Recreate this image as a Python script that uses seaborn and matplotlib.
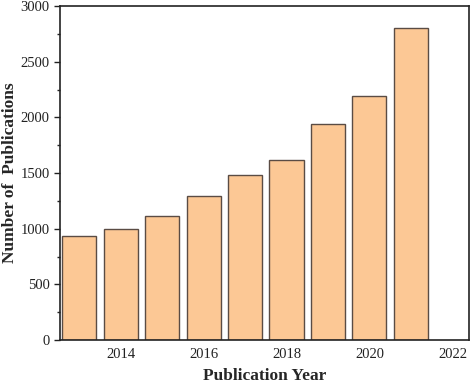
import numpy as np
import pandas as pd
import seaborn as sns
import matplotlib.pyplot as plt
from matplotlib.ticker import MultipleLocator

# publications per year
years = [2013, 2014, 2015, 2016, 2017, 2018, 2019, 2020, 2021]
counts = [937, 997, 1113, 1294, 1481, 1615, 1940, 2190, 2800]
xticks = [2014, 2016, 2018, 2020, 2022]

df = pd.DataFrame({"Year": years, "Count": counts})

sns.set_style("ticks")
plt.rcParams['font.family'] = ['Liberation Serif', 'DejaVu Serif']

fig = plt.figure(figsize=(4.74, 3.87), dpi=100)
ax = fig.add_axes([0.1266, 0.1214, 0.8629, 0.8631])

sns.barplot(data=df, x="Year", y="Count", native_scale=True, width=0.82,
            color="#FCC895", edgecolor="#5a4c44", linewidth=1.0,
            saturation=1, ax=ax)

ax.set_xlim(2012.54, 2022.4)
ax.set_ylim(0, 3000)
ax.set_xticks(xticks)
ax.set_xticklabels([str(t) for t in xticks])
ax.yaxis.set_major_locator(MultipleLocator(500))
ax.yaxis.set_minor_locator(MultipleLocator(250))

ax.tick_params(axis='x', length=0, pad=6, labelsize=10.5, colors='#222222')
ax.tick_params(axis='y', which='major', length=4, width=1, direction='out', labelsize=10.5, colors='#222222')
ax.tick_params(axis='y', which='minor', length=2.5, width=1, direction='out')
for s in ax.spines.values():
    s.set_linewidth(1.2)
    s.set_color('#222222')

ax.set_xlabel("Publication Year", fontsize=12.5, fontweight='bold', labelpad=5)
ax.set_ylabel("Number of  Publications", fontsize=12.5, fontweight='bold', labelpad=2)

fig.savefig("out.png", dpi=100)
